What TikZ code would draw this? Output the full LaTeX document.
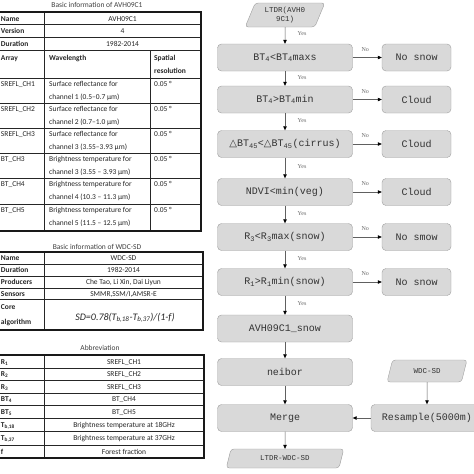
\documentclass[tikz,border=0pt]{standalone}
\usepackage{fontspec}
\setmainfont{Carlito}
\newfontfamily\flowfont{Liberation Mono}
\newfontfamily\labfont{Liberation Serif}
\newfontfamily\symfont{DejaVu Sans}
\usetikzlibrary{arrows.meta,shapes.geometric}
\tikzset{
  tc/.style={font=\fontsize{7.5}{8}\selectfont, inner sep=0, text=black!85},
  tb/.style={tc, font=\fontsize{7.5}{8}\selectfont\bfseries},
  ttl/.style={tc, text=black!75},
  inner/.style={draw=black!85, line width=0.6pt},
  outer/.style={draw=black!90, line width=1.1pt},
  proc/.style={draw=gray!75, fill=gray!30, rounded corners=4pt, minimum width=135pt,
    minimum height=27pt, inner sep=0, font=\flowfont\fontsize{10}{10}\selectfont, text=black!80},
  sidebox/.style={proc, minimum width=69pt},
  iobox/.style={trapezium, trapezium left angle=67, trapezium right angle=113,
    trapezium stretches=true, draw=gray!75, fill=gray!30, rounded corners=3pt, inner sep=0,
    font=\flowfont\fontsize{7.5}{9}\selectfont, text=black!80, align=center},
  arr/.style={draw=gray!75!black, line width=0.5pt, -{Triangle[length=4pt,width=3.5pt,color=black]}},
  lab/.style={font=\labfont\fontsize{6}{6}\selectfont, text=gray!80!black, inner sep=0}
}
\newcommand\datarow[5]{%
  \node[tc,anchor=base west] (a#1) at (0.8,#1+8.5) {#2};
  \node[tc,anchor=base west] (b#1) at (49,#1+8.5) {#3};
  \node[tc,anchor=base west] (c#1) at (49,#1+21) {#4};
  \node[tc,anchor=base west] (d#1) at (154,#1+8.5) {#5};}
\begin{document}
\begin{tikzpicture}[x=1pt,y=-1pt]
\useasboundingbox (0,0) rectangle (474,474);
\fill[white] (0,0) rectangle (474,474);

% ---------- Table 1 ----------
\node[ttl,anchor=base] (t1) at (97,7.5) {Basic information of AVH09C1};
\foreach \yy in {24.5,37.5,50.5,78,103,128,153,178,204} \draw[inner] (-5,\yy) -- (201,\yy);
\draw[inner] (44,12) -- (44,231);
\draw[inner] (150,50.5) -- (150,231);
\draw[outer] (-5,12) rectangle (201,231);
\node[tb,anchor=base west] (n1) at (0.8,21) {Name};
\node[tc,anchor=base] (v1) at (122.5,21) {AVH09C1};
\node[tb,anchor=base west] (n2) at (0.8,33.5) {Version};
\node[tc,anchor=base] (v2) at (122.5,33.5) {4};
\node[tb,anchor=base west] (n3) at (0.8,46.5) {Duration};
\node[tc,anchor=base] (v3) at (122.5,46.5) {1982-2014};
\node[tb,anchor=base west] (h1) at (0.8,60) {Array};
\node[tb,anchor=base west] (h2) at (49,60) {Wavelength};
\node[tb,anchor=base west] (h3) at (154,60) {Spatial};
\node[tb,anchor=base west] (h4) at (154,73) {resolution};
\datarow{78}{SREFL\_CH1}{Surface reflectance for}{channel 1 (0.5–0.7 μm)}{0.05 °}
\datarow{103}{SREFL\_CH2}{Surface reflectance for}{channel 2 (0.7–1.0 μm)}{0.05 °}
\datarow{128}{SREFL\_CH3}{Surface reflectance for}{channel 3 (3.55–3.93 μm)}{0.05 °}
\datarow{153}{BT\_CH3}{Brightness temperature for}{channel 3 (3.55 – 3.93 μm)}{0.05 °}
\datarow{178}{BT\_CH4}{Brightness temperature for}{channel 4 (10.3 – 11.3 μm)}{0.05 °}
\datarow{204}{BT\_CH5}{Brightness temperature for}{channel 5 (11.5 – 12.5 μm)}{0.05 °}

% ---------- Table 2 ----------
\node[ttl,anchor=base] (t2) at (97,249.5) {Basic information of WDC-SD};
\foreach \yy in {264,276,288,299} \draw[inner] (-5,\yy) -- (203,\yy);
\draw[inner] (44,252) -- (44,330);
\draw[outer] (-5,252) rectangle (203,330);
\node[tb,anchor=base west] (m1) at (0.8,260.5) {Name};
\node[tc,anchor=base] (w1) at (123.5,260.5) {WDC-SD};
\node[tb,anchor=base west] (m2) at (0.8,272.5) {Duration};
\node[tc,anchor=base] (w2) at (123.5,272.5) {1982-2014};
\node[tb,anchor=base west] (m3) at (0.8,284.5) {Producers};
\node[tc,anchor=base] (w3) at (123.5,284.5) {Che Tao, Li Xin, Dai Liyun};
\node[tb,anchor=base west] (m4) at (0.8,296) {Sensors};
\node[tc,anchor=base] (w4) at (123.5,296) {SMMR,SSM/I,AMSR-E};
\node[tb,anchor=base west] (m5) at (0.8,309.5) {Core};
\node[tb,anchor=base west] (m6) at (0.8,324.5) {algorithm};
\node[tc,font=\fontsize{10}{10}\selectfont\itshape] (w5) at (125,318)
  {SD=0.78(T\textsubscript{b,18}-T\textsubscript{b,37})/(1-f)};

% ---------- Table 3 ----------
\node[ttl,anchor=base] (t3) at (100,350.5) {Abbreviation};
\foreach \yy in {368,380,393,405,418,431,445} \draw[inner] (-5,\yy) -- (204,\yy);
\draw[inner] (44,355) -- (44,458);
\draw[outer] (-5,355) rectangle (204,458);
\node[tb,anchor=base west] (k1) at (0.8,364) {R\textsubscript{1}};
\node[tc,anchor=base] (e1) at (124,364) {SREFL\_CH1};
\node[tb,anchor=base west] (k2) at (0.8,376.5) {R\textsubscript{2}};
\node[tc,anchor=base] (e2) at (124,376.5) {SREFL\_CH2};
\node[tb,anchor=base west] (k3) at (0.8,389) {R\textsubscript{3}};
\node[tc,anchor=base] (e3) at (124,389) {SREFL\_CH3};
\node[tb,anchor=base west] (k4) at (0.8,401.5) {BT\textsubscript{4}};
\node[tc,anchor=base] (e4) at (124,401.5) {BT\_CH4};
\node[tb,anchor=base west] (k5) at (0.8,414) {BT\textsubscript{5}};
\node[tc,anchor=base] (e5) at (124,414) {BT\_CH5};
\node[tb,anchor=base west] (k6) at (0.8,427) {T\textsubscript{b,18}};
\node[tc,anchor=base] (e6) at (124,427) {Brightness temperature at 18GHz};
\node[tb,anchor=base west] (k7) at (0.8,440.5) {T\textsubscript{b,37}};
\node[tc,anchor=base] (e7) at (124,440.5) {Brightness temperature at 37GHz};
\node[tb,anchor=base west] (k8) at (0.8,454) {f};
\node[tc,anchor=base] (e8) at (124,454) {Forest fraction};

% ---------- Flowchart ----------
\node[iobox, minimum width=80pt, minimum height=24pt] (in) at (285,15) {LTDR(AVH0\\9C1)};
\node[proc] (b1) at (285,57.5) {BT\textsubscript{4}<BT\textsubscript{4}maxs};
\node[proc] (b2) at (285,99.5) {BT\textsubscript{4}>BT\textsubscript{4}min};
\node[proc] (b3) at (285,144) {{\symfont △}BT\textsubscript{45}<{\symfont △}BT\textsubscript{45}(cirrus)};
\node[proc] (b4) at (285,192) {NDVI<min(veg)};
\node[proc] (b5) at (285,237) {R\textsubscript{3}<R\textsubscript{3}max(snow)};
\node[proc] (b6) at (285,282) {R\textsubscript{1}>R\textsubscript{1}min(snow)};
\node[proc] (b7) at (285,328.5) {AVH09C1\_snow};
\node[proc] (b8) at (285,372) {neibor};
\node[proc] (b9) at (285,418) {Merge};
\node[iobox, minimum width=118pt, minimum height=19pt] (out) at (285,458.5) {LTDR-WDC-SD};

\node[sidebox] (s1) at (416.5,57.5) {No snow};
\node[sidebox] (s2) at (416.5,99.5) {Cloud};
\node[sidebox] (s3) at (416.5,144) {Cloud};
\node[sidebox] (s4) at (416.5,192) {Cloud};
\node[sidebox] (s5) at (416.5,237) {No smow};
\node[sidebox] (s6) at (416.5,282) {No snow};

\node[iobox, minimum width=80pt, minimum height=22pt] (wdc) at (427,371) {WDC-SD};
\node[proc, minimum width=112pt] (rs) at (427,418) {Resample(5000m)};

\draw[arr] (in) -- node[lab, pos=0.4, xshift=17pt] {Yes} (b1);
\draw[arr] (b1) -- node[lab, pos=0.45, xshift=17pt] {Yes} (b2);
\draw[arr] (b2) -- node[lab, pos=0.45, xshift=17pt] {Yes} (b3);
\draw[arr] (b3) -- node[lab, pos=0.45, xshift=17pt] {Yes} (b4);
\draw[arr] (b4) -- node[lab, pos=0.45, xshift=17pt] {Yes} (b5);
\draw[arr] (b5) -- node[lab, pos=0.45, xshift=17pt] {Yes} (b6);
\draw[arr] (b6) -- node[lab, pos=0.4, xshift=17pt] {Yes} (b7);
\draw[arr] (b7) -- (b8);
\draw[arr] (b8) -- (b9);
\draw[arr] (b9) -- (out);

\foreach \i in {1,...,6}
  \draw[arr] (b\i) -- node[lab, above, pos=0.43, yshift=6pt] {No} (s\i);

\draw[arr] (wdc) -- (rs);
\draw[arr] (rs) -- (b9);
\end{tikzpicture}
\end{document}
